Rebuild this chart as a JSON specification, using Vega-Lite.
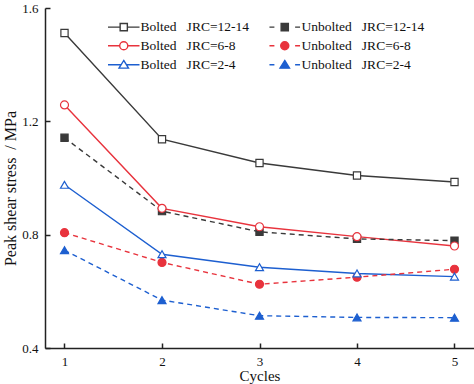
{
  "$schema": "https://vega.github.io/schema/vega-lite/v6.json",
  "width": 429,
  "height": 340,
  "autosize": "none",
  "padding": {"left": 45, "top": 8, "right": 0, "bottom": 36},
  "background": "white",
  "data": {
    "values": [
      {"series": "Bolted JRC=12-14", "cycle": 1, "stress": 1.512},
      {"series": "Bolted JRC=12-14", "cycle": 2, "stress": 1.137},
      {"series": "Bolted JRC=12-14", "cycle": 3, "stress": 1.053},
      {"series": "Bolted JRC=12-14", "cycle": 4, "stress": 1.009},
      {"series": "Bolted JRC=12-14", "cycle": 5, "stress": 0.986},
      {"series": "Unbolted JRC=12-14", "cycle": 1, "stress": 1.142},
      {"series": "Unbolted JRC=12-14", "cycle": 2, "stress": 0.883},
      {"series": "Unbolted JRC=12-14", "cycle": 3, "stress": 0.810},
      {"series": "Unbolted JRC=12-14", "cycle": 4, "stress": 0.785},
      {"series": "Unbolted JRC=12-14", "cycle": 5, "stress": 0.779},
      {"series": "Bolted JRC=6-8", "cycle": 1, "stress": 1.258},
      {"series": "Bolted JRC=6-8", "cycle": 2, "stress": 0.893},
      {"series": "Bolted JRC=6-8", "cycle": 3, "stress": 0.828},
      {"series": "Bolted JRC=6-8", "cycle": 4, "stress": 0.793},
      {"series": "Bolted JRC=6-8", "cycle": 5, "stress": 0.760},
      {"series": "Unbolted JRC=6-8", "cycle": 1, "stress": 0.807},
      {"series": "Unbolted JRC=6-8", "cycle": 2, "stress": 0.702},
      {"series": "Unbolted JRC=6-8", "cycle": 3, "stress": 0.625},
      {"series": "Unbolted JRC=6-8", "cycle": 4, "stress": 0.650},
      {"series": "Unbolted JRC=6-8", "cycle": 5, "stress": 0.678},
      {"series": "Bolted JRC=2-4", "cycle": 1, "stress": 0.976},
      {"series": "Bolted JRC=2-4", "cycle": 2, "stress": 0.731},
      {"series": "Bolted JRC=2-4", "cycle": 3, "stress": 0.685},
      {"series": "Bolted JRC=2-4", "cycle": 4, "stress": 0.663},
      {"series": "Bolted JRC=2-4", "cycle": 5, "stress": 0.652},
      {"series": "Unbolted JRC=2-4", "cycle": 1, "stress": 0.745},
      {"series": "Unbolted JRC=2-4", "cycle": 2, "stress": 0.569},
      {"series": "Unbolted JRC=2-4", "cycle": 3, "stress": 0.514},
      {"series": "Unbolted JRC=2-4", "cycle": 4, "stress": 0.508},
      {"series": "Unbolted JRC=2-4", "cycle": 5, "stress": 0.507}
    ]
  },
  "encoding": {
    "x": {
      "field": "cycle", "type": "quantitative",
      "scale": {"domain": [0.8, 5.2], "nice": false, "zero": false},
      "axis": {"title": "Cycles", "values": [1, 2, 3, 4, 5], "format": "d", "labelPadding": 12, "labelFont": "Liberation Serif", "labelFontSize": 13, "titleFont": "Liberation Serif", "titleFontSize": 15, "titleBaseline": "alphabetic", "titleY": 32}
    },
    "y": {
      "field": "stress", "type": "quantitative",
      "scale": {"domain": [0.4, 1.6], "nice": false, "zero": false},
      "axis": {"title": "Peak shear stress\u00a0 / MPa", "values": [0.4, 0.8, 1.2, 1.6], "format": ".1f", "labelPadding": 12, "labelFont": "Liberation Serif", "labelFontSize": 13, "titleFont": "Liberation Serif", "titleFontSize": 16, "titleX": -27, "titleY": 180}
    }
  },
  "layer": [
    {
      "transform": [{"filter": "datum.cycle > 100"}],
      "mark": {"type": "point", "strokeWidth": 1.4, "opacity": 1},
      "encoding": {
        "stroke": {
          "field": "series", "type": "nominal",
          "scale": {"domain": ["Bolted JRC=12-14", "Bolted JRC=6-8", "Bolted JRC=2-4", "Unbolted JRC=12-14", "Unbolted JRC=6-8", "Unbolted JRC=2-4"], "range": ["#3a3a3a", "#e8333d", "#1d5fd0", "#3a3a3a", "#e8333d", "#1d5fd0"]}
        },
        "fill": {
          "field": "series", "type": "nominal",
          "scale": {"domain": ["Bolted JRC=12-14", "Bolted JRC=6-8", "Bolted JRC=2-4", "Unbolted JRC=12-14", "Unbolted JRC=6-8", "Unbolted JRC=2-4"], "range": ["#ffffff", "#ffffff", "#ffffff", "#3a3a3a", "#e8333d", "#1d5fd0"]}
        },
        "shape": {
          "field": "series", "type": "nominal",
          "scale": {
            "domain": ["Bolted JRC=12-14", "Bolted JRC=6-8", "Bolted JRC=2-4", "Unbolted JRC=12-14", "Unbolted JRC=6-8", "Unbolted JRC=2-4"],
            "range": [
              "M-3.5,0L-0.8,0M0.8,0L3.5,0M-0.8,-0.8L0.8,-0.8L0.8,0.8L-0.8,0.8Z",
              "M-3.5,0L-0.9,0M0.9,0L3.5,0M-0.9,0A0.9,0.9,0,1,1,0.9,0A0.9,0.9,0,1,1,-0.9,0Z",
              "M-3.5,0L-0.6,0M0.6,0L3.5,0M0,-0.95L1.05,0.75L-1.05,0.75Z",
              "M-3.4,0L-2.3,0M2.3,0L3.4,0M-0.8,-0.8L0.8,-0.8L0.8,0.8L-0.8,0.8Z",
              "M-3.4,0L-2.3,0M2.3,0L3.4,0M-0.9,0A0.9,0.9,0,1,1,0.9,0A0.9,0.9,0,1,1,-0.9,0Z",
              "M-3.4,0L-2.3,0M2.3,0L3.4,0M0,-0.95L1.05,0.75L-1.05,0.75Z"
            ]
          },
          "legend": {
            "title": null,
            "orient": "none",
            "legendX": 72,
            "legendY": 12,
            "columns": 2,
            "columnPadding": 17,
            "rowPadding": 4,
            "symbolSize": 81,
            "symbolStrokeWidth": 1.4,
            "symbolOpacity": 1,
            "labelOffset": 10,
            "labelLimit": 300,
            "labelFont": "Liberation Serif",
            "labelFontSize": 13.5,
            "labelFontWeight": "normal",
            "labelFontStyle": "normal",
            "labelExpr": "replace(datum.label, ' ', '\u00a0\u00a0\u00a0')"
          }
        }
      }
    },
    {
      "transform": [{"filter": "indexof(datum.series, 'Unbolted') < 0"}],
      "mark": {"type": "line", "strokeWidth": 1.4},
      "encoding": {
        "stroke": {"field": "series", "type": "nominal"}
      }
    },
    {
      "transform": [{"filter": "indexof(datum.series, 'Unbolted') >= 0"}],
      "mark": {"type": "line", "strokeWidth": 1.4, "strokeDash": [5, 4]},
      "encoding": {
        "stroke": {"field": "series", "type": "nominal"}
      }
    },
    {
      "transform": [{"filter": "indexof(datum.series, '12-14') >= 0"}],
      "mark": {"type": "point", "shape": "square", "size": 52, "strokeWidth": 1.2, "opacity": 1},
      "encoding": {
        "stroke": {"field": "series", "type": "nominal"},
        "fill": {"field": "series", "type": "nominal"}
      }
    },
    {
      "transform": [{"filter": "indexof(datum.series, '6-8') >= 0"}],
      "mark": {"type": "point", "shape": "circle", "size": 64, "strokeWidth": 1.2, "opacity": 1},
      "encoding": {
        "stroke": {"field": "series", "type": "nominal"},
        "fill": {"field": "series", "type": "nominal"}
      }
    },
    {
      "transform": [{"filter": "indexof(datum.series, '2-4') >= 0"}],
      "mark": {"type": "point", "shape": "triangle-up", "size": 64, "strokeWidth": 1.2, "opacity": 1},
      "encoding": {
        "stroke": {"field": "series", "type": "nominal"},
        "fill": {"field": "series", "type": "nominal"}
      }
    }
  ],
  "config": {
    "view": {"stroke": null},
    "font": "Liberation Serif",
    "axis": {
      "grid": false,
      "domainColor": "#222222",
      "domainWidth": 1.5,
      "tickColor": "#222222",
      "tickWidth": 1.5,
      "tickSize": -5,
      "labelColor": "#111111",
      "labelFlush": false,
      "labelOverlap": false,
      "titleFontWeight": "normal",
      "titleColor": "#111111"
    },
    "legend": {
      "labelColor": "#111111",
      "padding": 0,
      "symbolOpacity": 1
    }
  }
}
